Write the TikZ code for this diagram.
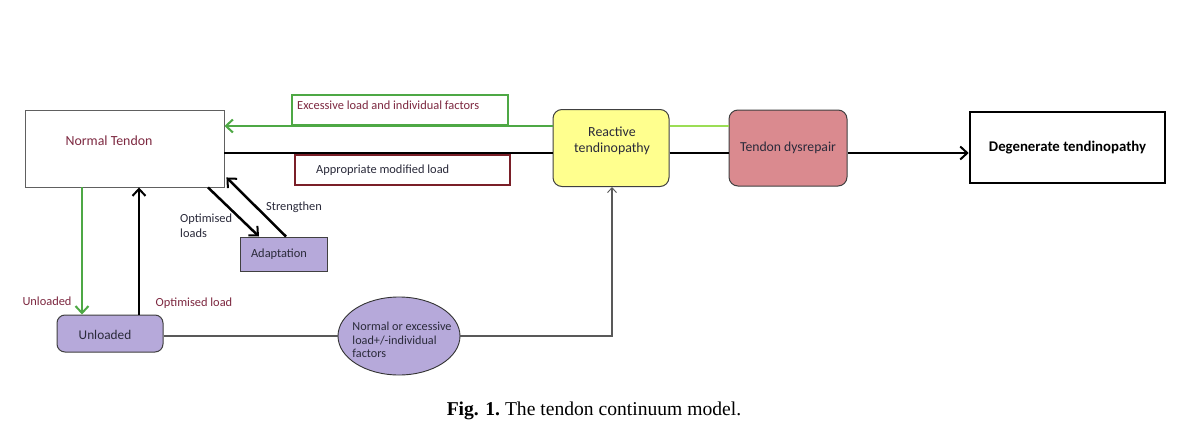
\documentclass[tikz,border=0pt]{standalone}
\usepackage{fontspec}
\setmainfont{Liberation Serif}
\newfontfamily\calfont{Carlito}
\usetikzlibrary{arrows.meta,shapes.geometric}
\definecolor{dred}{HTML}{7D2840}
\definecolor{boxred}{HTML}{7A1F28}
\definecolor{gline}{HTML}{4EA845}
\definecolor{lgline}{HTML}{9BDD55}
\definecolor{ryellow}{HTML}{FFFF8E}
\definecolor{rpink}{HTML}{DA8A8F}
\definecolor{lav}{HTML}{B6A9DA}
\definecolor{txt}{HTML}{2A2A3A}
\tikzset{
  lbl/.style={font=\calfont\fontsize{12.4}{15}\selectfont, text=txt, inner sep=0pt},
  redlbl/.style={lbl, text=dred},
  plainbox/.style={draw=gray!75!black, line width=0.9pt, inner sep=0pt},
  roundbox/.style={draw=gray!50!black, line width=1pt, rounded corners=9pt, inner sep=0pt},
  barb/.style={-{Straight Barb[length=7pt,width=13pt,line width=2pt]}},
  smallbarb/.style={-{Straight Barb[length=5pt,width=9pt,line width=0.9pt]}},
}
\begin{document}
\begin{tikzpicture}[x=1pt,y=-1pt]
\useasboundingbox[fill=white] (0,0) rectangle (1192,434);
% boxes
\node[plainbox, minimum width=199pt, minimum height=77pt] (nt) at (124.5,148.5) {};
\node[redlbl, font=\calfont\fontsize{13.9}{16}\selectfont] (ntt) at (109,141) {Normal Tendon};
\node[draw=gline, line width=2pt, minimum width=216pt, minimum height=30pt, inner sep=0] (gb) at (400,110) {};
\node[redlbl, anchor=west] (gbt) at (297,105) {Excessive load and individual factors};
\node[draw=boxred, line width=2.2pt, minimum width=215pt, minimum height=30pt, inner sep=0] (rb) at (402.5,170) {};
\node[lbl, anchor=west] (rbt) at (316,170) {Appropriate modified load};
\node[roundbox, fill=ryellow, minimum width=116pt, minimum height=77pt] (rt) at (611,148) {};
\node[lbl, align=center, font=\calfont\fontsize{13.9}{15.5}\selectfont] (rtt) at (612,141) {Reactive\\tendinopathy};
\node[roundbox, fill=rpink, minimum width=118pt, minimum height=76pt, lbl, font=\calfont\fontsize{13.7}{15}\selectfont] (td) at (788,148) {Tendon dysrepair};
\node[draw=black, line width=2.6pt, minimum width=195pt, minimum height=71pt, inner sep=0, font=\calfont\bfseries\fontsize{14.8}{17}\selectfont] (dg) at (1067.5,147.5) {Degenerate tendinopathy};
\node[roundbox, fill=lav, minimum width=106pt, minimum height=37pt, rounded corners=8pt] (ul) at (110,333.5) {};
\node[lbl, font=\calfont\fontsize{13.3}{15}\selectfont] (ult) at (105,335) {Unloaded};
\node[draw=gray!50!black, line width=1pt, fill=lav, minimum width=87pt, minimum height=34pt, inner sep=0] (ad) at (283.5,254) {};
\node[lbl] (adt) at (279,254) {Adaptation};
\node[ellipse, draw=gray!40!black, line width=0.9pt, fill=lav, minimum width=122pt, minimum height=78pt, inner sep=0pt] (el) at (399,336) {};
\node[lbl, align=left, font=\calfont\fontsize{12.2}{13.5}\selectfont] (elt) at (402,340) {Normal or excessive\\load+/-individual\\factors};
% labels
\node[redlbl] (l1) at (47,301) {Unloaded};
\node[redlbl] (l2) at (194,303) {Optimised load};
\node[lbl, align=left, anchor=west] (l3) at (180,226) {Optimised\\loads};
\node[lbl] (l4) at (294,207) {Strengthen};
\node[font=\fontsize{19.6}{22}\selectfont] (cap) at (594,411) {\textbf{Fig. 1.}\ The tendon continuum model.};
% helper coordinates
\coordinate (ly) at (0,153);
\coordinate (x1) at (82,0);
\coordinate (x2) at (139,0);
\coordinate (x3) at (208,0);
\coordinate (x4) at (259,0);
\coordinate (x5) at (286,0);
\coordinate (c3) at (612,336);
% connectors
\draw[gline, line width=2pt, barb] (rt.west |- gb.south) -- (nt.east |- gb.south);
\draw[black, line width=2pt] (nt.east |- ly) -- (rt.west |- ly);
\draw[lgline, line width=2pt] (rt.east |- gb.south) -- (td.west |- gb.south);
\draw[black, line width=2pt] (rt.east |- ly) -- (td.west |- ly);
\draw[black, line width=2pt, barb] (td.east |- ly) -- (dg.west |- ly);
\draw[gline, line width=1.8pt, barb] (nt.south -| x1) -- (ul.north -| x1);
\draw[black, line width=2.5pt, barb] (ul.north -| x2) -- (nt.south -| x2);
\draw[black, line width=2.5pt, barb] (nt.south -| x3) -- (ad.north -| x4);
\draw[black, line width=2.5pt, barb] (ad.north -| x5) -- ([xshift=2pt,yshift=10pt]nt.south east);
\draw[gray!70!black, line width=1.2pt] (el.west -| ul.east) -- (el.west);
\draw[gray!70!black, line width=1.2pt, smallbarb] (el.east) -- (c3) -- (rt.south -| c3);
\end{tikzpicture}
\end{document}
